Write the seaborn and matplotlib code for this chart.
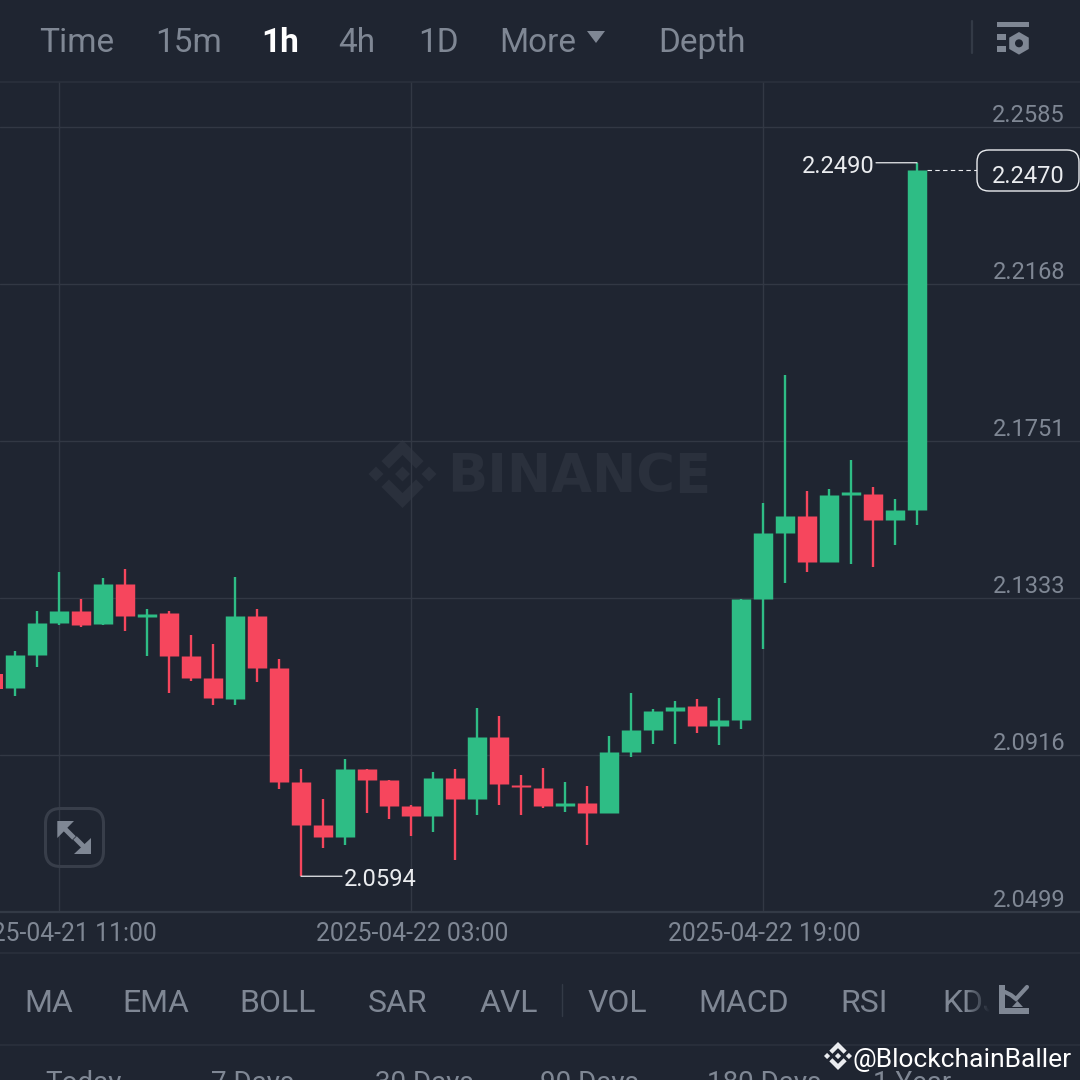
import numpy as np
import pandas as pd
import matplotlib
matplotlib.use("Agg")
import matplotlib.pyplot as plt
from matplotlib.patches import Circle, FancyBboxPatch, Polygon
from matplotlib.transforms import ScaledTranslation
import seaborn as sns

# hourly candles
opens = [2.1131, 2.1094, 2.1182, 2.1267, 2.1298, 2.1264, 2.1371, 2.1284, 2.1293, 2.1179, 2.1121,
         2.1066, 2.1285, 2.1148, 2.0845, 2.0731, 2.0697, 2.0878, 2.0849, 2.0781, 2.0753, 2.0855,
         2.0798, 2.0963, 2.0837, 2.0829, 2.0781, 2.0789, 2.0763, 2.0923, 2.0982, 2.1034, 2.1046,
         2.0993, 2.1010, 2.1330, 2.1507, 2.1551, 2.1428, 2.1606, 2.1610, 2.1541, 2.1567]
closes = [2.1091, 2.1181, 2.1266, 2.1298, 2.1262, 2.1371, 2.1285, 2.1292, 2.1180, 2.1122, 2.1067,
          2.1285, 2.1148, 2.0845, 2.0731, 2.0698, 2.0878, 2.0849, 2.0781, 2.0755, 2.0854, 2.0799,
          2.0963, 2.0839, 2.0830, 2.0780, 2.0789, 2.0763, 2.0923, 2.0982, 2.1034, 2.1044, 2.0993,
          2.1009, 2.1330, 2.1507, 2.1551, 2.1428, 2.1607, 2.1614, 2.1541, 2.1566, 2.2470]
highs = [2.1131, 2.1193, 2.1300, 2.1402, 2.1331, 2.1386, 2.1410, 2.1303, 2.1299, 2.1235, 2.1211,
         2.1388, 2.1304, 2.1170, 2.0878, 2.0799, 2.0905, 2.0880, 2.0849, 2.0784, 2.0870, 2.0879,
         2.1040, 2.1020, 2.0863, 2.0881, 2.0845, 2.0833, 2.0968, 2.1080, 2.1038, 2.1060, 2.1066,
         2.1068, 2.1331, 2.1585, 2.1927, 2.1618, 2.1623, 2.1700, 2.1628, 2.1596, 2.2490]
lows = [2.1091, 2.1074, 2.1151, 2.1261, 2.1257, 2.1262, 2.1246, 2.1180, 2.1080, 2.1114, 2.1049,
        2.1049, 2.1109, 2.0827, 2.0594, 2.0670, 2.0677, 2.0763, 2.0747, 2.0702, 2.0711, 2.0638,
        2.0757, 2.0783, 2.0758, 2.0776, 2.0766, 2.0678, 2.0763, 2.0912, 2.0945, 2.0946, 2.0974,
        2.0944, 2.0984, 2.1197, 2.1374, 2.1402, 2.1428, 2.1425, 2.1416, 2.1475, 2.1527]

price_ticks = [2.2585, 2.2168, 2.1751, 2.1333, 2.0916, 2.0499]
time_tick_idx = [3, 19, 35]
last_price = 2.2470

menu_labels = ["Time", "15m", "1h", "4h", "1D", "More", "Depth"]
menu_x = [39, 155, 261, 338, 418, 499, 658]
indicator_labels = ["MA", "EMA", "BOLL", "SAR", "AVL", "VOL", "MACD", "RSI", "KDJ"]
indicator_x = [24, 122, 239, 368, 479, 588, 698, 840, 942]
range_labels = ["Today", "7 Days", "30 Days", "90 Days", "180 Days", "1 Year"]
range_x = [45, 211, 375, 540, 707, 873]

BG = "#1f2531"
GRID = "#323844"
GREEN = "#2ebd85"
RED = "#f6465d"
MUTED = "#7f8794"
WHITE = "#eaecef"
WATERMARK = "#2a303c"

sns.set_style("darkgrid", rc={"axes.facecolor": "none", "figure.facecolor": BG, "grid.color": GRID,
                              "axes.edgecolor": GRID, "text.color": MUTED})
plt.rcParams["font.family"] = ["Roboto", "DejaVu Sans"]

times = pd.date_range("2025-04-21 08:00", periods=len(opens), freq="h")
df = pd.DataFrame({"idx": np.arange(len(opens)), "open": opens, "close": closes, "high": highs, "low": lows})
df["dir"] = np.where(df["close"] >= df["open"], "up", "down")
colors = {"up": GREEN, "down": RED}

wicks = df.melt(id_vars=["idx", "dir"], value_vars=["low", "high"], value_name="price")
bodies = df.melt(id_vars=["idx", "dir"], value_vars=["open", "close"], value_name="price")

fig = plt.figure(figsize=(10.8, 10.8), dpi=100)


def pixel_axes(z):
    a = fig.add_axes([0, 0, 1, 1], zorder=z)
    a.set_xlim(0, 1080)
    a.set_ylim(1080, 0)
    a.axis("off")
    return a


def binance_logo(target, cx, cy, r, color, z=1):
    small = 0.22
    for dx in [-0.78, 0, 0.78]:
        target.add_patch(Polygon([(cx + (dx - small) * r, cy), (cx + dx * r, cy - small * r),
                                  (cx + (dx + small) * r, cy), (cx + dx * r, cy + small * r)],
                                 fc=color, ec="none", zorder=z))
    for s in [-1, 1]:
        pts = [(0, 1), (0.62, 0.38), (0.40, 0.16), (0, 0.56), (-0.40, 0.16), (-0.62, 0.38)]
        target.add_patch(Polygon([(cx + a * r, cy + s * b * r) for a, b in pts], fc=color, ec="none", zorder=z))


# watermark goes under the chart, the rest of the screen over it
wm = pixel_axes(0)
ui = pixel_axes(2)

binance_logo(wm, 402.5, 474, 34, WATERMARK)
wm.text(447, 492, "BINANCE", fontsize=38, fontweight="bold", family="DejaVu Sans", color=WATERMARK,
        ha="left", va="baseline")

# chart area runs from y=82 to y=912 on screen
ax = fig.add_axes([0, (1080 - 912) / 1080, 1, 830 / 1080], zorder=1)
ax.set_facecolor("none")

sns.lineplot(data=wicks, x="idx", y="price", units="idx", estimator=None, hue="dir", palette=colors,
             linewidth=1.7, legend=False, sort=False, solid_capstyle="butt", ax=ax)
sns.lineplot(data=bodies, x="idx", y="price", units="idx", estimator=None, hue="dir", palette=colors,
             linewidth=14, legend=False, sort=False, solid_capstyle="butt", ax=ax)

x_left = 3 - 59 / 22
ax.set_xlim(x_left, x_left + 1080 / 22)
ax.set_ylim(2.0499, 2.27046)

# agg drops a line whose centre is off canvas, so the cut off candle is a bar
edge = df[df["idx"] < x_left]
ax.bar(edge["idx"], edge["open"] - edge["close"], bottom=edge["close"], width=0.88, color=RED, linewidth=0)

ax.set_yticks(price_ticks)
ax.set_xticks(time_tick_idx)
ax.set_xticklabels([times[i].strftime("%Y-%m-%d %H:%M") for i in time_tick_idx], fontsize=17.8, color=MUTED)
ax.tick_params(axis="x", length=0, pad=7.5)
ax.tick_params(axis="y", length=0, labelleft=False)
for lab in ax.get_xticklabels():
    lab.set_transform(lab.get_transform() + ScaledTranslation(1.5 / 100, 0, fig.dpi_scale_trans))
ax.grid(True, color=GRID, linewidth=1)
ax.set_xlabel("")
ax.set_ylabel("")
for side in ["left", "right"]:
    ax.spines[side].set_visible(False)
ax.spines["top"].set_linewidth(1.2)
ax.spines["bottom"].set_linewidth(1.6)
ax.spines["top"].set_color("#2b313c")
ax.spines["bottom"].set_color("#333a46")

# price labels sit just above their gridlines
for p in price_ticks:
    ax.annotate(f"{p:.4f}", xy=(1, p), xycoords=("axes fraction", "data"), xytext=(-15, 14),
                textcoords="offset pixels", ha="right", va="center_baseline", fontsize=17, color=MUTED)

# high / low markers
hi_i = df["high"].idxmax()
lo_i = df["low"].idxmin()
ax.annotate("", xy=(hi_i, highs[hi_i]), xytext=(-41, 0), textcoords="offset pixels",
            arrowprops=dict(arrowstyle="-", color=WHITE, lw=0.9, shrinkA=0, shrinkB=0))
ax.annotate("", xy=(lo_i, lows[lo_i]), xytext=(41, 0), textcoords="offset pixels",
            arrowprops=dict(arrowstyle="-", color=WHITE, lw=0.9, shrinkA=0, shrinkB=0))
ax.annotate(f"{highs[hi_i]:.4f}", xy=(hi_i, highs[hi_i]), xytext=(-42, -1.5), textcoords="offset pixels",
            ha="right", va="center_baseline", fontsize=17, color=WHITE)
ax.annotate(f"{lows[lo_i]:.4f}", xy=(lo_i, lows[lo_i]), xytext=(43, -1), textcoords="offset pixels",
            ha="left", va="center_baseline", fontsize=17, color=WHITE)

# last price line and tag
ax.plot([hi_i + 0.45, hi_i + 2.75], [last_price, last_price], color=WHITE, lw=0.8, ls=(0, (4, 3)))
ui.add_patch(FancyBboxPatch((988, 161), 80, 19, boxstyle="round,pad=11,rounding_size=12", fc=BG, ec=WHITE, lw=1.0, zorder=3))
ui.text(1028, 174, f"{last_price:.4f}", ha="center", va="center_baseline", fontsize=17, color=WHITE, zorder=4)

# top menu
for label, x in zip(menu_labels, menu_x):
    active = label == "1h"
    ui.text(x, 52, label, fontsize=24, color="#ffffff" if active else MUTED,
            fontweight="bold" if active else "normal", ha="left", va="baseline")
ui.add_patch(Polygon([(587, 31), (605, 31), (596, 43)], fc=MUTED, ec="none"))
ui.plot([972, 972], [21, 53], color="#333a46", lw=1.6)
ui.fill_between([997, 1029], 21.7, 26.7, color=MUTED, lw=0)
ui.fill_between([997, 1006], 34, 40, color=MUTED, lw=0)
ui.fill_between([997, 1006], 46, 51.5, color=MUTED, lw=0)
ang = np.radians(np.arange(30, 390, 60))
ui.add_patch(Polygon(np.c_[1019 + 11.3 * np.cos(ang), 43.3 + 11.3 * np.sin(ang)], fc=MUTED, ec="none"))
ui.add_patch(Circle((1019, 43.3), 4, fc=BG, ec="none"))

# rows under the chart
ui.plot([0, 1080], [953, 953], color="#2b313c", lw=1.2)
ui.plot([0, 1080], [1045, 1045], color="#2b313c", lw=1.2)
ui.plot([562, 562], [984, 1016], color="#333a46", lw=1)
for label, x in zip(indicator_labels, indicator_x):
    ui.text(x, 1012, label, fontsize=23, color=MUTED, ha="left", va="baseline")

# the KDJ tab fades out under the chart icon
fade = np.zeros((1, 40, 4))
fade[..., :3] = matplotlib.colors.to_rgb(BG)
fade[..., 3] = np.clip(np.linspace(0, 1.6, 40), 0, 1)
ui.imshow(fade, extent=(965, 1005, 1020, 980), aspect="auto", zorder=3)
ui.set_xlim(0, 1080)
ui.set_ylim(1080, 0)
ui.add_patch(Polygon([(999.3, 985), (1005, 985), (1005, 1008), (1029, 1008), (1029, 1014), (999.3, 1014)],
                     fc=MUTED, ec="none", zorder=4))
ui.plot([1005, 1011, 1016, 1027], [992, 995, 999, 987], color=MUTED, lw=3, zorder=4, solid_joinstyle="miter")
ui.add_patch(Polygon([(1017.5, 1001), (1012, 1007), (1023, 1007)], fc=MUTED, ec="none", zorder=4))

for label, x in zip(range_labels, range_x):
    ui.text(x, 1091, label, fontsize=20, color=MUTED, ha="left", va="baseline")

# expand button
ui.add_patch(FancyBboxPatch((57, 820), 35, 35, boxstyle="round,pad=11.5,rounding_size=15", fc="none", ec="#383e4a", lw=2.2))
ui.add_patch(Polygon([(57.3, 821), (74, 821), (57.3, 838)], fc=MUTED, ec="none"))
ui.add_patch(Polygon([(91, 854), (74, 854), (91, 838)], fc=MUTED, ec="none"))
ui.plot([64, 74], [828, 838], color=MUTED, lw=3.6, solid_capstyle="butt")
ui.plot([75, 85], [838, 848], color=MUTED, lw=3.6, solid_capstyle="butt")

# creator tag
binance_logo(ui, 838, 1056, 14, WHITE, z=5)
ui.text(853, 1057, "@BlockchainBaller", fontsize=19, color="#ffffff", ha="left", va="center_baseline", zorder=5)

fig.savefig("out.png", dpi=100, facecolor=BG)
